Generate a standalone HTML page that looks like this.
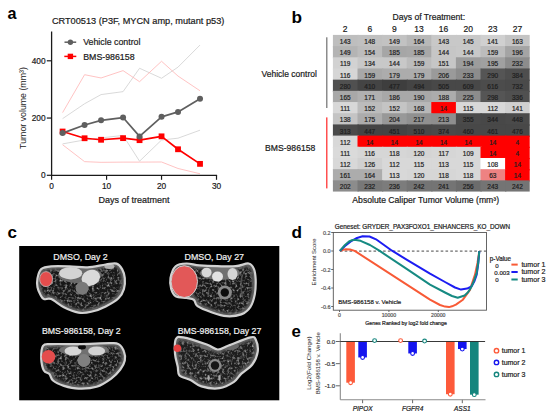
<!DOCTYPE html>
<html><head><meta charset="utf-8"><style>
html,body{margin:0;padding:0;background:#fff;width:550px;height:416px;overflow:hidden}
svg{display:block;font-family:"Liberation Sans",sans-serif}
</style></head><body>
<svg width="550" height="416" viewBox="0 0 550 416">
<rect width="550" height="416" fill="#fff"/>
<text x="7.60" y="19.30" font-size="16.2" text-anchor="start" fill="#000" font-weight="bold" font-style="normal" >a</text>
<text x="51.90" y="24.20" font-size="9.2" text-anchor="start" fill="#1a1a1a" font-weight="normal" font-style="normal" stroke="#1a1a1a" stroke-width="0.2" >CRT00513 (P3F, MYCN amp, mutant p53)</text>
<polyline points="62.59,118.65 84.58,103.74 101.07,94.58 123.06,91.65 139.55,68.25 161.54,78.28 178.03,67.12 200.02,45.04" fill="none" stroke="#cfcfcf" stroke-width="0.8" stroke-linejoin="round" />
<polyline points="62.59,143.90 84.58,139.94 101.07,137.92 123.06,135.42 139.55,161.19 161.54,140.04 178.03,138.18 200.02,130.20" fill="none" stroke="#cfcfcf" stroke-width="0.8" stroke-linejoin="round" />
<polyline points="62.59,112.64 84.58,74.70 101.07,77.97 123.06,70.61 139.55,81.69 161.54,61.27 178.03,76.07 200.02,90.79" fill="none" stroke="#ffb4b4" stroke-width="0.8" stroke-linejoin="round" />
<polyline points="62.59,144.72 84.58,161.65 101.07,162.33 123.06,162.11 139.55,162.12 161.54,161.99 178.03,168.47 200.02,173.75" fill="none" stroke="#ffb4b4" stroke-width="0.8" stroke-linejoin="round" />
<line x1="51.60" y1="31.50" x2="51.60" y2="175.90" stroke="#1a1a1a" stroke-width="1.3" />
<line x1="51.00" y1="175.30" x2="217.10" y2="175.30" stroke="#1a1a1a" stroke-width="1.3" />
<line x1="46.80" y1="175.30" x2="51.60" y2="175.30" stroke="#1a1a1a" stroke-width="1.2" />
<text x="45.60" y="178.30" font-size="8.3" text-anchor="end" fill="#1a1a1a" font-weight="normal" font-style="normal" stroke="#1a1a1a" stroke-width="0.2" >0</text>
<line x1="46.80" y1="118.05" x2="51.60" y2="118.05" stroke="#1a1a1a" stroke-width="1.2" />
<text x="45.60" y="121.05" font-size="8.3" text-anchor="end" fill="#1a1a1a" font-weight="normal" font-style="normal" stroke="#1a1a1a" stroke-width="0.2" >200</text>
<line x1="46.80" y1="60.80" x2="51.60" y2="60.80" stroke="#1a1a1a" stroke-width="1.2" />
<text x="45.60" y="63.80" font-size="8.3" text-anchor="end" fill="#1a1a1a" font-weight="normal" font-style="normal" stroke="#1a1a1a" stroke-width="0.2" >400</text>
<line x1="51.60" y1="175.30" x2="51.60" y2="179.80" stroke="#1a1a1a" stroke-width="1.2" />
<text x="51.60" y="189.00" font-size="8.3" text-anchor="middle" fill="#1a1a1a" font-weight="normal" font-style="normal" stroke="#1a1a1a" stroke-width="0.2" >0</text>
<line x1="106.57" y1="175.30" x2="106.57" y2="179.80" stroke="#1a1a1a" stroke-width="1.2" />
<text x="106.57" y="189.00" font-size="8.3" text-anchor="middle" fill="#1a1a1a" font-weight="normal" font-style="normal" stroke="#1a1a1a" stroke-width="0.2" >10</text>
<line x1="161.54" y1="175.30" x2="161.54" y2="179.80" stroke="#1a1a1a" stroke-width="1.2" />
<text x="161.54" y="189.00" font-size="8.3" text-anchor="middle" fill="#1a1a1a" font-weight="normal" font-style="normal" stroke="#1a1a1a" stroke-width="0.2" >20</text>
<line x1="216.51" y1="175.30" x2="216.51" y2="179.80" stroke="#1a1a1a" stroke-width="1.2" />
<text x="216.51" y="189.00" font-size="8.3" text-anchor="middle" fill="#1a1a1a" font-weight="normal" font-style="normal" stroke="#1a1a1a" stroke-width="0.2" >30</text>
<text x="134.10" y="202.50" font-size="9.0" text-anchor="middle" fill="#1a1a1a" font-weight="normal" font-style="normal" stroke="#1a1a1a" stroke-width="0.2" >Days of treatment</text>
<text x="0" y="0" font-size="8.8" text-anchor="middle" fill="#1a1a1a" transform="translate(26.4,108) rotate(-90)">Tumor volume (mm³)</text>
<polyline points="62.59,131.53 84.58,138.25 101.07,139.77 123.06,138.14 139.55,140.17 161.54,136.34 178.03,149.27 200.02,163.87" fill="none" stroke="#ff0000" stroke-width="1.7" stroke-linejoin="round" />
<polyline points="62.59,133.12 84.58,125.00 101.07,120.37 123.06,117.54 139.55,136.43 161.54,116.81 178.03,111.93 200.02,98.65" fill="none" stroke="#5f5f5f" stroke-width="1.7" stroke-linejoin="round" />
<rect x="59.69" y="128.63" width="5.80" height="5.80" fill="#ff0000" />
<rect x="81.68" y="135.35" width="5.80" height="5.80" fill="#ff0000" />
<rect x="98.17" y="136.87" width="5.80" height="5.80" fill="#ff0000" />
<rect x="120.16" y="135.24" width="5.80" height="5.80" fill="#ff0000" />
<rect x="136.65" y="137.27" width="5.80" height="5.80" fill="#ff0000" />
<rect x="158.64" y="133.44" width="5.80" height="5.80" fill="#ff0000" />
<rect x="175.13" y="146.37" width="5.80" height="5.80" fill="#ff0000" />
<rect x="197.12" y="160.97" width="5.80" height="5.80" fill="#ff0000" />
<circle cx="62.59" cy="133.12" r="3.0" fill="#5f5f5f"/>
<circle cx="84.58" cy="125.00" r="3.0" fill="#5f5f5f"/>
<circle cx="101.07" cy="120.37" r="3.0" fill="#5f5f5f"/>
<circle cx="123.06" cy="117.54" r="3.0" fill="#5f5f5f"/>
<circle cx="139.55" cy="136.43" r="3.0" fill="#5f5f5f"/>
<circle cx="161.54" cy="116.81" r="3.0" fill="#5f5f5f"/>
<circle cx="178.03" cy="111.93" r="3.0" fill="#5f5f5f"/>
<circle cx="200.02" cy="98.65" r="3.0" fill="#5f5f5f"/>
<line x1="64.50" y1="42.20" x2="76.20" y2="42.20" stroke="#5f5f5f" stroke-width="1.5" />
<circle cx="70.4" cy="42.2" r="2.7" fill="#5f5f5f"/>
<text x="83.20" y="45.20" font-size="8.8" text-anchor="start" fill="#1a1a1a" font-weight="normal" font-style="normal" stroke="#1a1a1a" stroke-width="0.2" >Vehicle control</text>
<line x1="64.30" y1="56.40" x2="76.30" y2="56.40" stroke="#ff0000" stroke-width="1.5" />
<rect x="67.70" y="53.70" width="5.40" height="5.40" fill="#ff0000" />
<text x="83.20" y="59.50" font-size="8.8" text-anchor="start" fill="#1a1a1a" font-weight="normal" font-style="normal" stroke="#1a1a1a" stroke-width="0.2" >BMS-986158</text>
<text x="291.60" y="22.50" font-size="17.2" text-anchor="start" fill="#000" font-weight="bold" font-style="normal" >b</text>
<text x="428.80" y="20.20" font-size="8.6" text-anchor="middle" fill="#1a1a1a" font-weight="normal" font-style="normal" stroke="#1a1a1a" stroke-width="0.2" >Days of Treatment:</text>
<text x="345.20" y="32.30" font-size="8.5" text-anchor="middle" fill="#1a1a1a" font-weight="normal" font-style="normal" stroke="#1a1a1a" stroke-width="0.2" >2</text>
<text x="369.80" y="32.30" font-size="8.5" text-anchor="middle" fill="#1a1a1a" font-weight="normal" font-style="normal" stroke="#1a1a1a" stroke-width="0.2" >6</text>
<text x="394.40" y="32.30" font-size="8.5" text-anchor="middle" fill="#1a1a1a" font-weight="normal" font-style="normal" stroke="#1a1a1a" stroke-width="0.2" >9</text>
<text x="419.00" y="32.30" font-size="8.5" text-anchor="middle" fill="#1a1a1a" font-weight="normal" font-style="normal" stroke="#1a1a1a" stroke-width="0.2" >13</text>
<text x="443.60" y="32.30" font-size="8.5" text-anchor="middle" fill="#1a1a1a" font-weight="normal" font-style="normal" stroke="#1a1a1a" stroke-width="0.2" >16</text>
<text x="468.20" y="32.30" font-size="8.5" text-anchor="middle" fill="#1a1a1a" font-weight="normal" font-style="normal" stroke="#1a1a1a" stroke-width="0.2" >20</text>
<text x="492.80" y="32.30" font-size="8.5" text-anchor="middle" fill="#1a1a1a" font-weight="normal" font-style="normal" stroke="#1a1a1a" stroke-width="0.2" >23</text>
<text x="517.40" y="32.30" font-size="8.5" text-anchor="middle" fill="#1a1a1a" font-weight="normal" font-style="normal" stroke="#1a1a1a" stroke-width="0.2" >27</text>
<rect x="332.90" y="34.90" width="25.80" height="12.39" fill="#bebebe" />
<rect x="357.50" y="34.90" width="25.80" height="12.39" fill="#c0c0c0" />
<rect x="382.10" y="34.90" width="25.80" height="12.39" fill="#c2c2c2" />
<rect x="406.70" y="34.90" width="25.80" height="12.39" fill="#b8b8b8" />
<rect x="431.30" y="34.90" width="25.80" height="12.39" fill="#c8c8c8" />
<rect x="455.90" y="34.90" width="25.80" height="12.39" fill="#c8c8c8" />
<rect x="480.50" y="34.90" width="25.80" height="12.39" fill="#d0d0d0" />
<rect x="505.10" y="34.90" width="24.60" height="12.39" fill="#c4c4c4" />
<rect x="332.90" y="46.09" width="25.80" height="12.39" fill="#b4b4b4" />
<rect x="357.50" y="46.09" width="25.80" height="12.39" fill="#bcbcbc" />
<rect x="382.10" y="46.09" width="25.80" height="12.39" fill="#a6a6a6" />
<rect x="406.70" y="46.09" width="25.80" height="12.39" fill="#a8a8a8" />
<rect x="431.30" y="46.09" width="25.80" height="12.39" fill="#c6c6c6" />
<rect x="455.90" y="46.09" width="25.80" height="12.39" fill="#c8c8c8" />
<rect x="480.50" y="46.09" width="25.80" height="12.39" fill="#bcbcbc" />
<rect x="505.10" y="46.09" width="24.60" height="12.39" fill="#a4a4a4" />
<rect x="332.90" y="57.28" width="25.80" height="12.39" fill="#d2d2d2" />
<rect x="357.50" y="57.28" width="25.80" height="12.39" fill="#c8c8c8" />
<rect x="382.10" y="57.28" width="25.80" height="12.39" fill="#c8c8c8" />
<rect x="406.70" y="57.28" width="25.80" height="12.39" fill="#bcbcbc" />
<rect x="431.30" y="57.28" width="25.80" height="12.39" fill="#c6c6c6" />
<rect x="455.90" y="57.28" width="25.80" height="12.39" fill="#9c9c9c" />
<rect x="480.50" y="57.28" width="25.80" height="12.39" fill="#a0a0a0" />
<rect x="505.10" y="57.28" width="24.60" height="12.39" fill="#8c8c8c" />
<rect x="332.90" y="68.47" width="25.80" height="12.39" fill="#d6d6d6" />
<rect x="357.50" y="68.47" width="25.80" height="12.39" fill="#a8a8a8" />
<rect x="382.10" y="68.47" width="25.80" height="12.39" fill="#acacac" />
<rect x="406.70" y="68.47" width="25.80" height="12.39" fill="#acacac" />
<rect x="431.30" y="68.47" width="25.80" height="12.39" fill="#9a9a9a" />
<rect x="455.90" y="68.47" width="25.80" height="12.39" fill="#8c8c8c" />
<rect x="480.50" y="68.47" width="25.80" height="12.39" fill="#555555" />
<rect x="505.10" y="68.47" width="24.60" height="12.39" fill="#4e4e4e" />
<rect x="332.90" y="79.66" width="25.80" height="12.39" fill="#505050" />
<rect x="357.50" y="79.66" width="25.80" height="12.39" fill="#444444" />
<rect x="382.10" y="79.66" width="25.80" height="12.39" fill="#3e3e3e" />
<rect x="406.70" y="79.66" width="25.80" height="12.39" fill="#444444" />
<rect x="431.30" y="79.66" width="25.80" height="12.39" fill="#484848" />
<rect x="455.90" y="79.66" width="25.80" height="12.39" fill="#484848" />
<rect x="480.50" y="79.66" width="25.80" height="12.39" fill="#4c4c4c" />
<rect x="505.10" y="79.66" width="24.60" height="12.39" fill="#4a4a4a" />
<rect x="332.90" y="90.85" width="25.80" height="12.39" fill="#a8a8a8" />
<rect x="357.50" y="90.85" width="25.80" height="12.39" fill="#b0b0b0" />
<rect x="382.10" y="90.85" width="25.80" height="12.39" fill="#a8a8a8" />
<rect x="406.70" y="90.85" width="25.80" height="12.39" fill="#a8a8a8" />
<rect x="431.30" y="90.85" width="25.80" height="12.39" fill="#acacac" />
<rect x="455.90" y="90.85" width="25.80" height="12.39" fill="#8c8c8c" />
<rect x="480.50" y="90.85" width="25.80" height="12.39" fill="#555555" />
<rect x="505.10" y="90.85" width="24.60" height="12.39" fill="#505050" />
<rect x="332.90" y="102.04" width="25.80" height="12.39" fill="#d8d8d8" />
<rect x="357.50" y="102.04" width="25.80" height="12.39" fill="#bcbcbc" />
<rect x="382.10" y="102.04" width="25.80" height="12.39" fill="#c4c4c4" />
<rect x="406.70" y="102.04" width="25.80" height="12.39" fill="#b8b8b8" />
<rect x="431.30" y="102.04" width="25.80" height="12.39" fill="#ff0000" />
<rect x="455.90" y="102.04" width="25.80" height="12.39" fill="#d8d8d8" />
<rect x="480.50" y="102.04" width="25.80" height="12.39" fill="#d8d8d8" />
<rect x="505.10" y="102.04" width="24.60" height="12.39" fill="#d0d0d0" />
<rect x="332.90" y="113.23" width="25.80" height="12.39" fill="#c4c4c4" />
<rect x="357.50" y="113.23" width="25.80" height="12.39" fill="#acacac" />
<rect x="382.10" y="113.23" width="25.80" height="12.39" fill="#989898" />
<rect x="406.70" y="113.23" width="25.80" height="12.39" fill="#909090" />
<rect x="431.30" y="113.23" width="25.80" height="12.39" fill="#8e8e8e" />
<rect x="455.90" y="113.23" width="25.80" height="12.39" fill="#4a4a4a" />
<rect x="480.50" y="113.23" width="25.80" height="12.39" fill="#484848" />
<rect x="505.10" y="113.23" width="24.60" height="12.39" fill="#4a4a4a" />
<rect x="332.90" y="124.42" width="25.80" height="12.39" fill="#4a4a4a" />
<rect x="357.50" y="124.42" width="25.80" height="12.39" fill="#444444" />
<rect x="382.10" y="124.42" width="25.80" height="12.39" fill="#444444" />
<rect x="406.70" y="124.42" width="25.80" height="12.39" fill="#484848" />
<rect x="431.30" y="124.42" width="25.80" height="12.39" fill="#4a4a4a" />
<rect x="455.90" y="124.42" width="25.80" height="12.39" fill="#484848" />
<rect x="480.50" y="124.42" width="25.80" height="12.39" fill="#484848" />
<rect x="505.10" y="124.42" width="24.60" height="12.39" fill="#484848" />
<rect x="332.90" y="135.61" width="25.80" height="12.39" fill="#d8d8d8" />
<rect x="357.50" y="135.61" width="25.80" height="12.39" fill="#ff0000" />
<rect x="382.10" y="135.61" width="25.80" height="12.39" fill="#ff0000" />
<rect x="406.70" y="135.61" width="25.80" height="12.39" fill="#ff0000" />
<rect x="431.30" y="135.61" width="25.80" height="12.39" fill="#ff0000" />
<rect x="455.90" y="135.61" width="25.80" height="12.39" fill="#ff0000" />
<rect x="480.50" y="135.61" width="25.80" height="12.39" fill="#ff0000" />
<rect x="505.10" y="135.61" width="24.60" height="12.39" fill="#ff0000" />
<rect x="332.90" y="146.80" width="25.80" height="12.39" fill="#dadada" />
<rect x="357.50" y="146.80" width="25.80" height="12.39" fill="#d6d6d6" />
<rect x="382.10" y="146.80" width="25.80" height="12.39" fill="#d6d6d6" />
<rect x="406.70" y="146.80" width="25.80" height="12.39" fill="#d4d4d4" />
<rect x="431.30" y="146.80" width="25.80" height="12.39" fill="#d6d6d6" />
<rect x="455.90" y="146.80" width="25.80" height="12.39" fill="#d8d8d8" />
<rect x="480.50" y="146.80" width="25.80" height="12.39" fill="#ff0000" />
<rect x="505.10" y="146.80" width="24.60" height="12.39" fill="#ff0000" />
<rect x="332.90" y="157.99" width="25.80" height="12.39" fill="#d8d8d8" />
<rect x="357.50" y="157.99" width="25.80" height="12.39" fill="#d0d0d0" />
<rect x="382.10" y="157.99" width="25.80" height="12.39" fill="#d8d8d8" />
<rect x="406.70" y="157.99" width="25.80" height="12.39" fill="#d8d8d8" />
<rect x="431.30" y="157.99" width="25.80" height="12.39" fill="#d8d8d8" />
<rect x="455.90" y="157.99" width="25.80" height="12.39" fill="#d8d8d8" />
<rect x="480.50" y="157.99" width="25.80" height="12.39" fill="#ffffff" />
<rect x="505.10" y="157.99" width="24.60" height="12.39" fill="#ff0000" />
<rect x="332.90" y="169.18" width="25.80" height="12.39" fill="#acacac" />
<rect x="357.50" y="169.18" width="25.80" height="12.39" fill="#acacac" />
<rect x="382.10" y="169.18" width="25.80" height="12.39" fill="#d8d8d8" />
<rect x="406.70" y="169.18" width="25.80" height="12.39" fill="#d6d6d6" />
<rect x="431.30" y="169.18" width="25.80" height="12.39" fill="#d6d6d6" />
<rect x="455.90" y="169.18" width="25.80" height="12.39" fill="#d8d8d8" />
<rect x="480.50" y="169.18" width="25.80" height="12.39" fill="#ee8282" />
<rect x="505.10" y="169.18" width="24.60" height="12.39" fill="#ff0000" />
<rect x="332.90" y="180.37" width="25.80" height="11.19" fill="#8c8c8c" />
<rect x="357.50" y="180.37" width="25.80" height="11.19" fill="#787878" />
<rect x="382.10" y="180.37" width="25.80" height="11.19" fill="#7c7c7c" />
<rect x="406.70" y="180.37" width="25.80" height="11.19" fill="#747474" />
<rect x="431.30" y="180.37" width="25.80" height="11.19" fill="#747474" />
<rect x="455.90" y="180.37" width="25.80" height="11.19" fill="#6c6c6c" />
<rect x="480.50" y="180.37" width="25.80" height="11.19" fill="#747474" />
<rect x="505.10" y="180.37" width="24.60" height="11.19" fill="#747474" />
<text x="345.20" y="43.99" font-size="6.5" text-anchor="middle" fill="#1e1e1e" font-weight="normal" font-style="normal" stroke="#1e1e1e" stroke-width="0.2" >143</text>
<text x="369.80" y="43.99" font-size="6.5" text-anchor="middle" fill="#1e1e1e" font-weight="normal" font-style="normal" stroke="#1e1e1e" stroke-width="0.2" >148</text>
<text x="394.40" y="43.99" font-size="6.5" text-anchor="middle" fill="#1e1e1e" font-weight="normal" font-style="normal" stroke="#1e1e1e" stroke-width="0.2" >149</text>
<text x="419.00" y="43.99" font-size="6.5" text-anchor="middle" fill="#1e1e1e" font-weight="normal" font-style="normal" stroke="#1e1e1e" stroke-width="0.2" >164</text>
<text x="443.60" y="43.99" font-size="6.5" text-anchor="middle" fill="#1e1e1e" font-weight="normal" font-style="normal" stroke="#1e1e1e" stroke-width="0.2" >143</text>
<text x="468.20" y="43.99" font-size="6.5" text-anchor="middle" fill="#1e1e1e" font-weight="normal" font-style="normal" stroke="#1e1e1e" stroke-width="0.2" >145</text>
<text x="492.80" y="43.99" font-size="6.5" text-anchor="middle" fill="#1e1e1e" font-weight="normal" font-style="normal" stroke="#1e1e1e" stroke-width="0.2" >141</text>
<text x="517.40" y="43.99" font-size="6.5" text-anchor="middle" fill="#1e1e1e" font-weight="normal" font-style="normal" stroke="#1e1e1e" stroke-width="0.2" >163</text>
<text x="345.20" y="55.19" font-size="6.5" text-anchor="middle" fill="#1e1e1e" font-weight="normal" font-style="normal" stroke="#1e1e1e" stroke-width="0.2" >149</text>
<text x="369.80" y="55.19" font-size="6.5" text-anchor="middle" fill="#1e1e1e" font-weight="normal" font-style="normal" stroke="#1e1e1e" stroke-width="0.2" >154</text>
<text x="394.40" y="55.19" font-size="6.5" text-anchor="middle" fill="#1e1e1e" font-weight="normal" font-style="normal" stroke="#1e1e1e" stroke-width="0.2" >185</text>
<text x="419.00" y="55.19" font-size="6.5" text-anchor="middle" fill="#1e1e1e" font-weight="normal" font-style="normal" stroke="#1e1e1e" stroke-width="0.2" >185</text>
<text x="443.60" y="55.19" font-size="6.5" text-anchor="middle" fill="#1e1e1e" font-weight="normal" font-style="normal" stroke="#1e1e1e" stroke-width="0.2" >144</text>
<text x="468.20" y="55.19" font-size="6.5" text-anchor="middle" fill="#1e1e1e" font-weight="normal" font-style="normal" stroke="#1e1e1e" stroke-width="0.2" >144</text>
<text x="492.80" y="55.19" font-size="6.5" text-anchor="middle" fill="#1e1e1e" font-weight="normal" font-style="normal" stroke="#1e1e1e" stroke-width="0.2" >159</text>
<text x="517.40" y="55.19" font-size="6.5" text-anchor="middle" fill="#1e1e1e" font-weight="normal" font-style="normal" stroke="#1e1e1e" stroke-width="0.2" >196</text>
<text x="345.20" y="66.38" font-size="6.5" text-anchor="middle" fill="#1e1e1e" font-weight="normal" font-style="normal" stroke="#1e1e1e" stroke-width="0.2" >119</text>
<text x="369.80" y="66.38" font-size="6.5" text-anchor="middle" fill="#1e1e1e" font-weight="normal" font-style="normal" stroke="#1e1e1e" stroke-width="0.2" >134</text>
<text x="394.40" y="66.38" font-size="6.5" text-anchor="middle" fill="#1e1e1e" font-weight="normal" font-style="normal" stroke="#1e1e1e" stroke-width="0.2" >144</text>
<text x="419.00" y="66.38" font-size="6.5" text-anchor="middle" fill="#1e1e1e" font-weight="normal" font-style="normal" stroke="#1e1e1e" stroke-width="0.2" >159</text>
<text x="443.60" y="66.38" font-size="6.5" text-anchor="middle" fill="#1e1e1e" font-weight="normal" font-style="normal" stroke="#1e1e1e" stroke-width="0.2" >151</text>
<text x="468.20" y="66.38" font-size="6.5" text-anchor="middle" fill="#1e1e1e" font-weight="normal" font-style="normal" stroke="#1e1e1e" stroke-width="0.2" >194</text>
<text x="492.80" y="66.38" font-size="6.5" text-anchor="middle" fill="#1e1e1e" font-weight="normal" font-style="normal" stroke="#1e1e1e" stroke-width="0.2" >195</text>
<text x="517.40" y="66.38" font-size="6.5" text-anchor="middle" fill="#1e1e1e" font-weight="normal" font-style="normal" stroke="#1e1e1e" stroke-width="0.2" >232</text>
<text x="345.20" y="77.56" font-size="6.5" text-anchor="middle" fill="#1e1e1e" font-weight="normal" font-style="normal" stroke="#1e1e1e" stroke-width="0.2" >116</text>
<text x="369.80" y="77.56" font-size="6.5" text-anchor="middle" fill="#1e1e1e" font-weight="normal" font-style="normal" stroke="#1e1e1e" stroke-width="0.2" >159</text>
<text x="394.40" y="77.56" font-size="6.5" text-anchor="middle" fill="#1e1e1e" font-weight="normal" font-style="normal" stroke="#1e1e1e" stroke-width="0.2" >179</text>
<text x="419.00" y="77.56" font-size="6.5" text-anchor="middle" fill="#1e1e1e" font-weight="normal" font-style="normal" stroke="#1e1e1e" stroke-width="0.2" >179</text>
<text x="443.60" y="77.56" font-size="6.5" text-anchor="middle" fill="#1e1e1e" font-weight="normal" font-style="normal" stroke="#1e1e1e" stroke-width="0.2" >206</text>
<text x="468.20" y="77.56" font-size="6.5" text-anchor="middle" fill="#1e1e1e" font-weight="normal" font-style="normal" stroke="#1e1e1e" stroke-width="0.2" >233</text>
<text x="492.80" y="77.56" font-size="6.5" text-anchor="middle" fill="#1e1e1e" font-weight="normal" font-style="normal" stroke="#1e1e1e" stroke-width="0.2" >290</text>
<text x="517.40" y="77.56" font-size="6.5" text-anchor="middle" fill="#1e1e1e" font-weight="normal" font-style="normal" stroke="#1e1e1e" stroke-width="0.2" >384</text>
<text x="345.20" y="88.75" font-size="6.5" text-anchor="middle" fill="#1e1e1e" font-weight="normal" font-style="normal" stroke="#1e1e1e" stroke-width="0.2" >280</text>
<text x="369.80" y="88.75" font-size="6.5" text-anchor="middle" fill="#1e1e1e" font-weight="normal" font-style="normal" stroke="#1e1e1e" stroke-width="0.2" >410</text>
<text x="394.40" y="88.75" font-size="6.5" text-anchor="middle" fill="#1e1e1e" font-weight="normal" font-style="normal" stroke="#1e1e1e" stroke-width="0.2" >477</text>
<text x="419.00" y="88.75" font-size="6.5" text-anchor="middle" fill="#1e1e1e" font-weight="normal" font-style="normal" stroke="#1e1e1e" stroke-width="0.2" >494</text>
<text x="443.60" y="88.75" font-size="6.5" text-anchor="middle" fill="#1e1e1e" font-weight="normal" font-style="normal" stroke="#1e1e1e" stroke-width="0.2" >505</text>
<text x="468.20" y="88.75" font-size="6.5" text-anchor="middle" fill="#1e1e1e" font-weight="normal" font-style="normal" stroke="#1e1e1e" stroke-width="0.2" >609</text>
<text x="492.80" y="88.75" font-size="6.5" text-anchor="middle" fill="#1e1e1e" font-weight="normal" font-style="normal" stroke="#1e1e1e" stroke-width="0.2" >616</text>
<text x="517.40" y="88.75" font-size="6.5" text-anchor="middle" fill="#1e1e1e" font-weight="normal" font-style="normal" stroke="#1e1e1e" stroke-width="0.2" >732</text>
<text x="345.20" y="99.94" font-size="6.5" text-anchor="middle" fill="#1e1e1e" font-weight="normal" font-style="normal" stroke="#1e1e1e" stroke-width="0.2" >165</text>
<text x="369.80" y="99.94" font-size="6.5" text-anchor="middle" fill="#1e1e1e" font-weight="normal" font-style="normal" stroke="#1e1e1e" stroke-width="0.2" >171</text>
<text x="394.40" y="99.94" font-size="6.5" text-anchor="middle" fill="#1e1e1e" font-weight="normal" font-style="normal" stroke="#1e1e1e" stroke-width="0.2" >186</text>
<text x="419.00" y="99.94" font-size="6.5" text-anchor="middle" fill="#1e1e1e" font-weight="normal" font-style="normal" stroke="#1e1e1e" stroke-width="0.2" >190</text>
<text x="443.60" y="99.94" font-size="6.5" text-anchor="middle" fill="#1e1e1e" font-weight="normal" font-style="normal" stroke="#1e1e1e" stroke-width="0.2" >188</text>
<text x="468.20" y="99.94" font-size="6.5" text-anchor="middle" fill="#1e1e1e" font-weight="normal" font-style="normal" stroke="#1e1e1e" stroke-width="0.2" >225</text>
<text x="492.80" y="99.94" font-size="6.5" text-anchor="middle" fill="#1e1e1e" font-weight="normal" font-style="normal" stroke="#1e1e1e" stroke-width="0.2" >298</text>
<text x="517.40" y="99.94" font-size="6.5" text-anchor="middle" fill="#1e1e1e" font-weight="normal" font-style="normal" stroke="#1e1e1e" stroke-width="0.2" >336</text>
<text x="345.20" y="111.13" font-size="6.5" text-anchor="middle" fill="#1e1e1e" font-weight="normal" font-style="normal" stroke="#1e1e1e" stroke-width="0.2" >111</text>
<text x="369.80" y="111.13" font-size="6.5" text-anchor="middle" fill="#1e1e1e" font-weight="normal" font-style="normal" stroke="#1e1e1e" stroke-width="0.2" >152</text>
<text x="394.40" y="111.13" font-size="6.5" text-anchor="middle" fill="#1e1e1e" font-weight="normal" font-style="normal" stroke="#1e1e1e" stroke-width="0.2" >152</text>
<text x="419.00" y="111.13" font-size="6.5" text-anchor="middle" fill="#1e1e1e" font-weight="normal" font-style="normal" stroke="#1e1e1e" stroke-width="0.2" >168</text>
<text x="443.60" y="111.13" font-size="6.5" text-anchor="middle" fill="#1e1e1e" font-weight="normal" font-style="normal" stroke="#1e1e1e" stroke-width="0.2" >14</text>
<text x="468.20" y="111.13" font-size="6.5" text-anchor="middle" fill="#1e1e1e" font-weight="normal" font-style="normal" stroke="#1e1e1e" stroke-width="0.2" >115</text>
<text x="492.80" y="111.13" font-size="6.5" text-anchor="middle" fill="#1e1e1e" font-weight="normal" font-style="normal" stroke="#1e1e1e" stroke-width="0.2" >112</text>
<text x="517.40" y="111.13" font-size="6.5" text-anchor="middle" fill="#1e1e1e" font-weight="normal" font-style="normal" stroke="#1e1e1e" stroke-width="0.2" >141</text>
<text x="345.20" y="122.32" font-size="6.5" text-anchor="middle" fill="#1e1e1e" font-weight="normal" font-style="normal" stroke="#1e1e1e" stroke-width="0.2" >138</text>
<text x="369.80" y="122.32" font-size="6.5" text-anchor="middle" fill="#1e1e1e" font-weight="normal" font-style="normal" stroke="#1e1e1e" stroke-width="0.2" >175</text>
<text x="394.40" y="122.32" font-size="6.5" text-anchor="middle" fill="#1e1e1e" font-weight="normal" font-style="normal" stroke="#1e1e1e" stroke-width="0.2" >204</text>
<text x="419.00" y="122.32" font-size="6.5" text-anchor="middle" fill="#1e1e1e" font-weight="normal" font-style="normal" stroke="#1e1e1e" stroke-width="0.2" >217</text>
<text x="443.60" y="122.32" font-size="6.5" text-anchor="middle" fill="#1e1e1e" font-weight="normal" font-style="normal" stroke="#1e1e1e" stroke-width="0.2" >213</text>
<text x="468.20" y="122.32" font-size="6.5" text-anchor="middle" fill="#1e1e1e" font-weight="normal" font-style="normal" stroke="#1e1e1e" stroke-width="0.2" >355</text>
<text x="492.80" y="122.32" font-size="6.5" text-anchor="middle" fill="#1e1e1e" font-weight="normal" font-style="normal" stroke="#1e1e1e" stroke-width="0.2" >344</text>
<text x="517.40" y="122.32" font-size="6.5" text-anchor="middle" fill="#1e1e1e" font-weight="normal" font-style="normal" stroke="#1e1e1e" stroke-width="0.2" >448</text>
<text x="345.20" y="133.51" font-size="6.5" text-anchor="middle" fill="#1e1e1e" font-weight="normal" font-style="normal" stroke="#1e1e1e" stroke-width="0.2" >313</text>
<text x="369.80" y="133.51" font-size="6.5" text-anchor="middle" fill="#1e1e1e" font-weight="normal" font-style="normal" stroke="#1e1e1e" stroke-width="0.2" >447</text>
<text x="394.40" y="133.51" font-size="6.5" text-anchor="middle" fill="#1e1e1e" font-weight="normal" font-style="normal" stroke="#1e1e1e" stroke-width="0.2" >451</text>
<text x="419.00" y="133.51" font-size="6.5" text-anchor="middle" fill="#1e1e1e" font-weight="normal" font-style="normal" stroke="#1e1e1e" stroke-width="0.2" >510</text>
<text x="443.60" y="133.51" font-size="6.5" text-anchor="middle" fill="#1e1e1e" font-weight="normal" font-style="normal" stroke="#1e1e1e" stroke-width="0.2" >374</text>
<text x="468.20" y="133.51" font-size="6.5" text-anchor="middle" fill="#1e1e1e" font-weight="normal" font-style="normal" stroke="#1e1e1e" stroke-width="0.2" >460</text>
<text x="492.80" y="133.51" font-size="6.5" text-anchor="middle" fill="#1e1e1e" font-weight="normal" font-style="normal" stroke="#1e1e1e" stroke-width="0.2" >461</text>
<text x="517.40" y="133.51" font-size="6.5" text-anchor="middle" fill="#1e1e1e" font-weight="normal" font-style="normal" stroke="#1e1e1e" stroke-width="0.2" >476</text>
<text x="345.20" y="144.70" font-size="6.5" text-anchor="middle" fill="#1e1e1e" font-weight="normal" font-style="normal" stroke="#1e1e1e" stroke-width="0.2" >112</text>
<text x="369.80" y="144.70" font-size="6.5" text-anchor="middle" fill="#1e1e1e" font-weight="normal" font-style="normal" stroke="#1e1e1e" stroke-width="0.2" >14</text>
<text x="394.40" y="144.70" font-size="6.5" text-anchor="middle" fill="#1e1e1e" font-weight="normal" font-style="normal" stroke="#1e1e1e" stroke-width="0.2" >14</text>
<text x="419.00" y="144.70" font-size="6.5" text-anchor="middle" fill="#1e1e1e" font-weight="normal" font-style="normal" stroke="#1e1e1e" stroke-width="0.2" >14</text>
<text x="443.60" y="144.70" font-size="6.5" text-anchor="middle" fill="#1e1e1e" font-weight="normal" font-style="normal" stroke="#1e1e1e" stroke-width="0.2" >14</text>
<text x="468.20" y="144.70" font-size="6.5" text-anchor="middle" fill="#1e1e1e" font-weight="normal" font-style="normal" stroke="#1e1e1e" stroke-width="0.2" >14</text>
<text x="492.80" y="144.70" font-size="6.5" text-anchor="middle" fill="#1e1e1e" font-weight="normal" font-style="normal" stroke="#1e1e1e" stroke-width="0.2" >14</text>
<text x="517.40" y="144.70" font-size="6.5" text-anchor="middle" fill="#1e1e1e" font-weight="normal" font-style="normal" stroke="#1e1e1e" stroke-width="0.2" >4</text>
<text x="345.20" y="155.89" font-size="6.5" text-anchor="middle" fill="#1e1e1e" font-weight="normal" font-style="normal" stroke="#1e1e1e" stroke-width="0.2" >111</text>
<text x="369.80" y="155.89" font-size="6.5" text-anchor="middle" fill="#1e1e1e" font-weight="normal" font-style="normal" stroke="#1e1e1e" stroke-width="0.2" >116</text>
<text x="394.40" y="155.89" font-size="6.5" text-anchor="middle" fill="#1e1e1e" font-weight="normal" font-style="normal" stroke="#1e1e1e" stroke-width="0.2" >118</text>
<text x="419.00" y="155.89" font-size="6.5" text-anchor="middle" fill="#1e1e1e" font-weight="normal" font-style="normal" stroke="#1e1e1e" stroke-width="0.2" >120</text>
<text x="443.60" y="155.89" font-size="6.5" text-anchor="middle" fill="#1e1e1e" font-weight="normal" font-style="normal" stroke="#1e1e1e" stroke-width="0.2" >117</text>
<text x="468.20" y="155.89" font-size="6.5" text-anchor="middle" fill="#1e1e1e" font-weight="normal" font-style="normal" stroke="#1e1e1e" stroke-width="0.2" >109</text>
<text x="492.80" y="155.89" font-size="6.5" text-anchor="middle" fill="#1e1e1e" font-weight="normal" font-style="normal" stroke="#1e1e1e" stroke-width="0.2" >14</text>
<text x="517.40" y="155.89" font-size="6.5" text-anchor="middle" fill="#1e1e1e" font-weight="normal" font-style="normal" stroke="#1e1e1e" stroke-width="0.2" >4</text>
<text x="345.20" y="167.09" font-size="6.5" text-anchor="middle" fill="#1e1e1e" font-weight="normal" font-style="normal" stroke="#1e1e1e" stroke-width="0.2" >112</text>
<text x="369.80" y="167.09" font-size="6.5" text-anchor="middle" fill="#1e1e1e" font-weight="normal" font-style="normal" stroke="#1e1e1e" stroke-width="0.2" >126</text>
<text x="394.40" y="167.09" font-size="6.5" text-anchor="middle" fill="#1e1e1e" font-weight="normal" font-style="normal" stroke="#1e1e1e" stroke-width="0.2" >112</text>
<text x="419.00" y="167.09" font-size="6.5" text-anchor="middle" fill="#1e1e1e" font-weight="normal" font-style="normal" stroke="#1e1e1e" stroke-width="0.2" >115</text>
<text x="443.60" y="167.09" font-size="6.5" text-anchor="middle" fill="#1e1e1e" font-weight="normal" font-style="normal" stroke="#1e1e1e" stroke-width="0.2" >113</text>
<text x="468.20" y="167.09" font-size="6.5" text-anchor="middle" fill="#1e1e1e" font-weight="normal" font-style="normal" stroke="#1e1e1e" stroke-width="0.2" >115</text>
<text x="492.80" y="167.09" font-size="6.5" text-anchor="middle" fill="#1e1e1e" font-weight="normal" font-style="normal" stroke="#1e1e1e" stroke-width="0.2" >108</text>
<text x="517.40" y="167.09" font-size="6.5" text-anchor="middle" fill="#1e1e1e" font-weight="normal" font-style="normal" stroke="#1e1e1e" stroke-width="0.2" >14</text>
<text x="345.20" y="178.28" font-size="6.5" text-anchor="middle" fill="#1e1e1e" font-weight="normal" font-style="normal" stroke="#1e1e1e" stroke-width="0.2" >161</text>
<text x="369.80" y="178.28" font-size="6.5" text-anchor="middle" fill="#1e1e1e" font-weight="normal" font-style="normal" stroke="#1e1e1e" stroke-width="0.2" >164</text>
<text x="394.40" y="178.28" font-size="6.5" text-anchor="middle" fill="#1e1e1e" font-weight="normal" font-style="normal" stroke="#1e1e1e" stroke-width="0.2" >113</text>
<text x="419.00" y="178.28" font-size="6.5" text-anchor="middle" fill="#1e1e1e" font-weight="normal" font-style="normal" stroke="#1e1e1e" stroke-width="0.2" >120</text>
<text x="443.60" y="178.28" font-size="6.5" text-anchor="middle" fill="#1e1e1e" font-weight="normal" font-style="normal" stroke="#1e1e1e" stroke-width="0.2" >118</text>
<text x="468.20" y="178.28" font-size="6.5" text-anchor="middle" fill="#1e1e1e" font-weight="normal" font-style="normal" stroke="#1e1e1e" stroke-width="0.2" >118</text>
<text x="492.80" y="178.28" font-size="6.5" text-anchor="middle" fill="#1e1e1e" font-weight="normal" font-style="normal" stroke="#1e1e1e" stroke-width="0.2" >63</text>
<text x="517.40" y="178.28" font-size="6.5" text-anchor="middle" fill="#1e1e1e" font-weight="normal" font-style="normal" stroke="#1e1e1e" stroke-width="0.2" >14</text>
<text x="345.20" y="189.47" font-size="6.5" text-anchor="middle" fill="#1e1e1e" font-weight="normal" font-style="normal" stroke="#1e1e1e" stroke-width="0.2" >202</text>
<text x="369.80" y="189.47" font-size="6.5" text-anchor="middle" fill="#1e1e1e" font-weight="normal" font-style="normal" stroke="#1e1e1e" stroke-width="0.2" >232</text>
<text x="394.40" y="189.47" font-size="6.5" text-anchor="middle" fill="#1e1e1e" font-weight="normal" font-style="normal" stroke="#1e1e1e" stroke-width="0.2" >236</text>
<text x="419.00" y="189.47" font-size="6.5" text-anchor="middle" fill="#1e1e1e" font-weight="normal" font-style="normal" stroke="#1e1e1e" stroke-width="0.2" >242</text>
<text x="443.60" y="189.47" font-size="6.5" text-anchor="middle" fill="#1e1e1e" font-weight="normal" font-style="normal" stroke="#1e1e1e" stroke-width="0.2" >241</text>
<text x="468.20" y="189.47" font-size="6.5" text-anchor="middle" fill="#1e1e1e" font-weight="normal" font-style="normal" stroke="#1e1e1e" stroke-width="0.2" >256</text>
<text x="492.80" y="189.47" font-size="6.5" text-anchor="middle" fill="#1e1e1e" font-weight="normal" font-style="normal" stroke="#1e1e1e" stroke-width="0.2" >243</text>
<text x="517.40" y="189.47" font-size="6.5" text-anchor="middle" fill="#1e1e1e" font-weight="normal" font-style="normal" stroke="#1e1e1e" stroke-width="0.2" >242</text>
<rect x="326.00" y="37.30" width="1.50" height="70.70" fill="#8c8c8c" />
<rect x="326.00" y="117.40" width="1.50" height="71.00" fill="#ff5050" />
<text x="289.20" y="77.00" font-size="8.5" text-anchor="middle" fill="#1a1a1a" font-weight="normal" font-style="normal" stroke="#1a1a1a" stroke-width="0.2" >Vehicle control</text>
<text x="290.20" y="151.00" font-size="8.65" text-anchor="middle" fill="#1a1a1a" font-weight="normal" font-style="normal" stroke="#1a1a1a" stroke-width="0.2" >BMS-986158</text>
<text x="425.70" y="202.70" font-size="8.63" text-anchor="middle" fill="#1a1a1a" font-weight="normal" font-style="normal" stroke="#1a1a1a" stroke-width="0.2" >Absolute Caliper Tumor Volume (mm³)</text>
<text x="7.60" y="238.20" font-size="17" text-anchor="start" fill="#000" font-weight="bold" font-style="normal" >c</text>
<rect x="19.20" y="246.00" width="260.10" height="154.30" fill="#000000" />
<defs><filter id="soft" x="-10%" y="-10%" width="120%" height="120%"><feGaussianBlur stdDeviation="0.7"/></filter><filter id="soft2" x="-20%" y="-20%" width="140%" height="140%"><feGaussianBlur stdDeviation="1.2"/></filter></defs>
<filter id="noise" x="0" y="0" width="100%" height="100%"><feTurbulence type="fractalNoise" baseFrequency="0.4" numOctaves="2" seed="3"/><feColorMatrix values="0 0 0 0 0.5  0 0 0 0 0.5  0 0 0 0 0.5  0 0 0 2.0 -0.92"/><feGaussianBlur stdDeviation="0.4"/></filter>
<clipPath id="bc0"><path d="M41.2,269.1 C43.5,267.1 46.5,266.8 51.2,266.4 C55.9,265.9 63.4,266.2 69.4,266.4 C75.5,266.5 81.5,267.6 87.5,267.3 C93.5,267.0 100.9,265.1 105.7,264.5 C110.5,263.9 113.9,262.8 116.6,263.6 C119.3,264.4 120.7,266.7 122.1,269.1 C123.5,271.5 124.5,274.9 124.8,278.2 C125.1,281.5 125.0,285.8 123.9,289.1 C122.9,292.4 121.5,295.3 118.5,298.2 C115.5,301.1 110.2,304.1 105.7,306.4 C101.2,308.7 95.7,310.8 91.2,311.8 C86.7,312.9 83.0,313.4 78.5,312.7 C74.0,311.9 68.5,309.6 63.9,307.3 C59.4,305.0 54.5,300.5 51.2,299.1 C47.9,297.7 45.7,299.9 43.9,299.1 C42.1,298.3 41.4,296.5 40.3,294.5 C39.2,292.5 38.0,290.0 37.5,287.3 C37.0,284.6 36.9,281.2 37.5,278.2 C38.1,275.2 38.9,271.1 41.2,269.1 Z"/></clipPath>
<g clip-path="url(#bc0)"><rect x="19" y="246" width="261" height="155" fill="#181818"/><rect x="19" y="246" width="261" height="155" filter="url(#noise)"/><path d="M41.2,269.1 C43.5,267.1 46.5,266.8 51.2,266.4 C55.9,265.9 63.4,266.2 69.4,266.4 C75.5,266.5 81.5,267.6 87.5,267.3 C93.5,267.0 100.9,265.1 105.7,264.5 C110.5,263.9 113.9,262.8 116.6,263.6 C119.3,264.4 120.7,266.7 122.1,269.1 C123.5,271.5 124.5,274.9 124.8,278.2 C125.1,281.5 125.0,285.8 123.9,289.1 C122.9,292.4 121.5,295.3 118.5,298.2 C115.5,301.1 110.2,304.1 105.7,306.4 C101.2,308.7 95.7,310.8 91.2,311.8 C86.7,312.9 83.0,313.4 78.5,312.7 C74.0,311.9 68.5,309.6 63.9,307.3 C59.4,305.0 54.5,300.5 51.2,299.1 C47.9,297.7 45.7,299.9 43.9,299.1 C42.1,298.3 41.4,296.5 40.3,294.5 C39.2,292.5 38.0,290.0 37.5,287.3 C37.0,284.6 36.9,281.2 37.5,278.2 C38.1,275.2 38.9,271.1 41.2,269.1 Z" fill="none" stroke="#606060" stroke-width="7" filter="url(#soft2)"/><g filter="url(#soft)"><ellipse cx="80" cy="275" rx="22" ry="8" fill="#6a6a6a"/><ellipse cx="70.7" cy="273.2" rx="11.5" ry="6.2" fill="#d4d4d4"/><ellipse cx="90.8" cy="277.8" rx="9.5" ry="7.8" fill="#dadada" transform="rotate(-25 90.8 277.8)"/><circle cx="82.1" cy="288.2" r="6.5" fill="#7a7a7a"/><ellipse cx="109.4" cy="266.5" rx="5" ry="2.5" fill="#b0b0b0"/></g></g>
<path d="M41.2,269.1 C43.5,267.1 46.5,266.8 51.2,266.4 C55.9,265.9 63.4,266.2 69.4,266.4 C75.5,266.5 81.5,267.6 87.5,267.3 C93.5,267.0 100.9,265.1 105.7,264.5 C110.5,263.9 113.9,262.8 116.6,263.6 C119.3,264.4 120.7,266.7 122.1,269.1 C123.5,271.5 124.5,274.9 124.8,278.2 C125.1,281.5 125.0,285.8 123.9,289.1 C122.9,292.4 121.5,295.3 118.5,298.2 C115.5,301.1 110.2,304.1 105.7,306.4 C101.2,308.7 95.7,310.8 91.2,311.8 C86.7,312.9 83.0,313.4 78.5,312.7 C74.0,311.9 68.5,309.6 63.9,307.3 C59.4,305.0 54.5,300.5 51.2,299.1 C47.9,297.7 45.7,299.9 43.9,299.1 C42.1,298.3 41.4,296.5 40.3,294.5 C39.2,292.5 38.0,290.0 37.5,287.3 C37.0,284.6 36.9,281.2 37.5,278.2 C38.1,275.2 38.9,271.1 41.2,269.1 Z" fill="none" stroke="#d2d2d2" stroke-width="2.2" filter="url(#soft)"/>
<clipPath id="bc1"><path d="M175.7,266.2 C178.4,263.8 182.6,263.6 186.6,263.5 C190.6,263.4 194.2,264.9 199.4,265.3 C204.6,265.8 211.4,266.1 217.5,266.2 C223.6,266.3 230.5,266.6 235.7,266.2 C240.9,265.8 245.5,263.1 248.5,263.5 C251.5,263.9 252.7,266.2 253.9,268.9 C255.1,271.6 255.5,275.6 255.7,279.8 C255.8,284.1 255.7,289.8 254.8,294.4 C253.9,298.9 252.6,303.8 250.3,307.1 C248.0,310.4 245.1,312.9 241.2,314.4 C237.2,315.9 231.4,316.5 226.6,316.2 C221.8,315.9 216.9,314.2 212.1,312.5 C207.2,310.8 200.5,308.3 197.5,306.2 C194.5,304.1 195.7,301.2 193.9,299.8 C192.1,298.4 189.6,298.6 186.6,298.0 C183.6,297.4 178.3,297.7 175.7,296.2 C173.1,294.7 172.1,292.0 171.2,289.0 C170.3,286.0 169.8,281.8 170.5,278.0 C171.2,274.2 173.0,268.6 175.7,266.2 Z"/></clipPath>
<g clip-path="url(#bc1)"><rect x="19" y="246" width="261" height="155" fill="#181818"/><rect x="19" y="246" width="261" height="155" filter="url(#noise)"/><path d="M175.7,266.2 C178.4,263.8 182.6,263.6 186.6,263.5 C190.6,263.4 194.2,264.9 199.4,265.3 C204.6,265.8 211.4,266.1 217.5,266.2 C223.6,266.3 230.5,266.6 235.7,266.2 C240.9,265.8 245.5,263.1 248.5,263.5 C251.5,263.9 252.7,266.2 253.9,268.9 C255.1,271.6 255.5,275.6 255.7,279.8 C255.8,284.1 255.7,289.8 254.8,294.4 C253.9,298.9 252.6,303.8 250.3,307.1 C248.0,310.4 245.1,312.9 241.2,314.4 C237.2,315.9 231.4,316.5 226.6,316.2 C221.8,315.9 216.9,314.2 212.1,312.5 C207.2,310.8 200.5,308.3 197.5,306.2 C194.5,304.1 195.7,301.2 193.9,299.8 C192.1,298.4 189.6,298.6 186.6,298.0 C183.6,297.4 178.3,297.7 175.7,296.2 C173.1,294.7 172.1,292.0 171.2,289.0 C170.3,286.0 169.8,281.8 170.5,278.0 C171.2,274.2 173.0,268.6 175.7,266.2 Z" fill="none" stroke="#606060" stroke-width="7" filter="url(#soft2)"/><g filter="url(#soft)"><ellipse cx="220" cy="273" rx="20" ry="7" fill="#707070"/><ellipse cx="206.6" cy="272.5" rx="5" ry="4.8" fill="#d8d8d8"/><ellipse cx="217.5" cy="276.6" rx="5.5" ry="5" fill="#e2e2e2"/><ellipse cx="232.5" cy="274" rx="5" ry="6" fill="#d4d4d4"/><circle cx="224.8" cy="292.5" r="7" fill="#8a8a8a"/><circle cx="224.8" cy="292.5" r="4.2" fill="#0e0e0e"/><ellipse cx="247" cy="286" rx="6" ry="16" fill="none" stroke="#555" stroke-width="1"/></g></g>
<path d="M175.7,266.2 C178.4,263.8 182.6,263.6 186.6,263.5 C190.6,263.4 194.2,264.9 199.4,265.3 C204.6,265.8 211.4,266.1 217.5,266.2 C223.6,266.3 230.5,266.6 235.7,266.2 C240.9,265.8 245.5,263.1 248.5,263.5 C251.5,263.9 252.7,266.2 253.9,268.9 C255.1,271.6 255.5,275.6 255.7,279.8 C255.8,284.1 255.7,289.8 254.8,294.4 C253.9,298.9 252.6,303.8 250.3,307.1 C248.0,310.4 245.1,312.9 241.2,314.4 C237.2,315.9 231.4,316.5 226.6,316.2 C221.8,315.9 216.9,314.2 212.1,312.5 C207.2,310.8 200.5,308.3 197.5,306.2 C194.5,304.1 195.7,301.2 193.9,299.8 C192.1,298.4 189.6,298.6 186.6,298.0 C183.6,297.4 178.3,297.7 175.7,296.2 C173.1,294.7 172.1,292.0 171.2,289.0 C170.3,286.0 169.8,281.8 170.5,278.0 C171.2,274.2 173.0,268.6 175.7,266.2 Z" fill="none" stroke="#d2d2d2" stroke-width="2.2" filter="url(#soft)"/>
<clipPath id="bc2"><path d="M43.0,345.9 C44.7,343.5 45.3,344.4 51.2,344.1 C57.1,343.8 68.8,344.2 78.5,344.1 C88.2,344.0 102.7,343.2 109.4,343.2 C116.1,343.2 116.1,342.7 118.5,344.1 C120.9,345.5 122.9,348.7 123.9,351.4 C125.0,354.1 125.4,357.5 124.8,360.5 C124.2,363.5 122.6,366.5 120.3,369.5 C118.0,372.5 115.2,375.7 111.2,378.6 C107.2,381.5 102.0,385.1 96.6,386.8 C91.1,388.5 84.0,388.8 78.5,388.6 C73.0,388.5 68.2,387.2 63.9,385.9 C59.6,384.5 55.4,382.5 53.0,380.5 C50.6,378.5 50.9,375.8 49.4,374.1 C47.9,372.4 45.3,373.1 43.9,370.5 C42.5,367.9 41.4,362.7 41.2,358.6 C41.1,354.5 41.3,348.3 43.0,345.9 Z"/></clipPath>
<g clip-path="url(#bc2)"><rect x="19" y="246" width="261" height="155" fill="#181818"/><rect x="19" y="246" width="261" height="155" filter="url(#noise)"/><path d="M43.0,345.9 C44.7,343.5 45.3,344.4 51.2,344.1 C57.1,343.8 68.8,344.2 78.5,344.1 C88.2,344.0 102.7,343.2 109.4,343.2 C116.1,343.2 116.1,342.7 118.5,344.1 C120.9,345.5 122.9,348.7 123.9,351.4 C125.0,354.1 125.4,357.5 124.8,360.5 C124.2,363.5 122.6,366.5 120.3,369.5 C118.0,372.5 115.2,375.7 111.2,378.6 C107.2,381.5 102.0,385.1 96.6,386.8 C91.1,388.5 84.0,388.8 78.5,388.6 C73.0,388.5 68.2,387.2 63.9,385.9 C59.6,384.5 55.4,382.5 53.0,380.5 C50.6,378.5 50.9,375.8 49.4,374.1 C47.9,372.4 45.3,373.1 43.9,370.5 C42.5,367.9 41.4,362.7 41.2,358.6 C41.1,354.5 41.3,348.3 43.0,345.9 Z" fill="none" stroke="#606060" stroke-width="7" filter="url(#soft2)"/><g filter="url(#soft)"><ellipse cx="84" cy="350" rx="25" ry="6" fill="#707070"/><ellipse cx="73" cy="351" rx="8.5" ry="4.5" fill="#d6d6d6"/><ellipse cx="96.6" cy="351" rx="8.5" ry="4.5" fill="#d2d2d2"/><circle cx="83.9" cy="360.5" r="6.5" fill="#808080"/><ellipse cx="82" cy="347" rx="4" ry="2.5" fill="#111"/></g></g>
<path d="M43.0,345.9 C44.7,343.5 45.3,344.4 51.2,344.1 C57.1,343.8 68.8,344.2 78.5,344.1 C88.2,344.0 102.7,343.2 109.4,343.2 C116.1,343.2 116.1,342.7 118.5,344.1 C120.9,345.5 122.9,348.7 123.9,351.4 C125.0,354.1 125.4,357.5 124.8,360.5 C124.2,363.5 122.6,366.5 120.3,369.5 C118.0,372.5 115.2,375.7 111.2,378.6 C107.2,381.5 102.0,385.1 96.6,386.8 C91.1,388.5 84.0,388.8 78.5,388.6 C73.0,388.5 68.2,387.2 63.9,385.9 C59.6,384.5 55.4,382.5 53.0,380.5 C50.6,378.5 50.9,375.8 49.4,374.1 C47.9,372.4 45.3,373.1 43.9,370.5 C42.5,367.9 41.4,362.7 41.2,358.6 C41.1,354.5 41.3,348.3 43.0,345.9 Z" fill="none" stroke="#d2d2d2" stroke-width="2.2" filter="url(#soft)"/>
<clipPath id="bc3"><path d="M175.9,339.1 C177.3,336.4 178.0,336.4 183.2,337.3 C188.3,338.2 201.1,342.5 206.8,344.5 C212.6,346.5 214.1,349.3 217.7,349.5 C221.3,349.7 223.1,347.5 228.6,345.5 C234.1,343.5 245.9,338.2 250.5,337.3 C255.1,336.4 254.7,337.6 255.9,340.0 C257.1,342.4 258.3,347.7 257.7,351.8 C257.1,355.9 255.0,360.9 252.3,364.5 C249.6,368.1 244.5,370.7 241.4,373.6 C238.3,376.5 237.7,379.4 234.0,381.8 C230.3,384.2 224.9,387.4 219.5,388.2 C214.1,389.0 206.2,387.8 201.4,386.4 C196.6,385.0 194.2,381.8 190.5,380.0 C186.8,378.2 181.6,377.8 179.5,375.5 C177.4,373.2 178.4,370.0 177.7,366.4 C176.9,362.8 175.3,358.2 175.0,353.6 C174.7,349.1 174.5,341.8 175.9,339.1 Z"/></clipPath>
<g clip-path="url(#bc3)"><rect x="19" y="246" width="261" height="155" fill="#1e1e1e"/><rect x="19" y="246" width="261" height="155" filter="url(#noise)"/><path d="M175.9,339.1 C177.3,336.4 178.0,336.4 183.2,337.3 C188.3,338.2 201.1,342.5 206.8,344.5 C212.6,346.5 214.1,349.3 217.7,349.5 C221.3,349.7 223.1,347.5 228.6,345.5 C234.1,343.5 245.9,338.2 250.5,337.3 C255.1,336.4 254.7,337.6 255.9,340.0 C257.1,342.4 258.3,347.7 257.7,351.8 C257.1,355.9 255.0,360.9 252.3,364.5 C249.6,368.1 244.5,370.7 241.4,373.6 C238.3,376.5 237.7,379.4 234.0,381.8 C230.3,384.2 224.9,387.4 219.5,388.2 C214.1,389.0 206.2,387.8 201.4,386.4 C196.6,385.0 194.2,381.8 190.5,380.0 C186.8,378.2 181.6,377.8 179.5,375.5 C177.4,373.2 178.4,370.0 177.7,366.4 C176.9,362.8 175.3,358.2 175.0,353.6 C174.7,349.1 174.5,341.8 175.9,339.1 Z" fill="none" stroke="#606060" stroke-width="7" filter="url(#soft2)"/><g filter="url(#soft)"><ellipse cx="210" cy="346" rx="10" ry="4" fill="#6a6a6a"/><ellipse cx="230" cy="346" rx="9" ry="4" fill="#6a6a6a"/><circle cx="215" cy="365.5" r="6.5" fill="#8a8a8a"/><circle cx="215" cy="365.5" r="4.2" fill="#121212"/><ellipse cx="208.6" cy="378" rx="1.2" ry="3" fill="#aaa"/><ellipse cx="219.5" cy="378" rx="1.2" ry="3" fill="#aaa"/></g></g>
<path d="M175.9,339.1 C177.3,336.4 178.0,336.4 183.2,337.3 C188.3,338.2 201.1,342.5 206.8,344.5 C212.6,346.5 214.1,349.3 217.7,349.5 C221.3,349.7 223.1,347.5 228.6,345.5 C234.1,343.5 245.9,338.2 250.5,337.3 C255.1,336.4 254.7,337.6 255.9,340.0 C257.1,342.4 258.3,347.7 257.7,351.8 C257.1,355.9 255.0,360.9 252.3,364.5 C249.6,368.1 244.5,370.7 241.4,373.6 C238.3,376.5 237.7,379.4 234.0,381.8 C230.3,384.2 224.9,387.4 219.5,388.2 C214.1,389.0 206.2,387.8 201.4,386.4 C196.6,385.0 194.2,381.8 190.5,380.0 C186.8,378.2 181.6,377.8 179.5,375.5 C177.4,373.2 178.4,370.0 177.7,366.4 C176.9,362.8 175.3,358.2 175.0,353.6 C174.7,349.1 174.5,341.8 175.9,339.1 Z" fill="none" stroke="#d2d2d2" stroke-width="2.2" filter="url(#soft)"/>
<g filter="url(#soft)"><ellipse cx="46.1" cy="279.1" rx="6.5" ry="7.5" fill="#e44e4e" stroke="#bbb" stroke-width="0.8"/><ellipse cx="184.3" cy="281.6" rx="13.2" ry="15.9" fill="#e25858" stroke="#ccc" stroke-width="1"/><circle cx="48.5" cy="356.8" r="6.8" fill="#e44e4e"/><circle cx="177.4" cy="348.2" r="3.8" fill="#e44040"/></g>
<text x="53.30" y="260.00" font-size="8.84" text-anchor="start" fill="#f2f2f2" font-weight="normal" font-style="normal" stroke="#f2f2f2" stroke-width="0.2" >DMSO, Day 2</text>
<text x="184.50" y="260.00" font-size="8.85" text-anchor="start" fill="#f2f2f2" font-weight="normal" font-style="normal" stroke="#f2f2f2" stroke-width="0.2" >DMSO, Day 27</text>
<text x="41.90" y="333.80" font-size="8.76" text-anchor="start" fill="#f2f2f2" font-weight="normal" font-style="normal" stroke="#f2f2f2" stroke-width="0.2" >BMS-986158, Day 2</text>
<text x="177.70" y="333.80" font-size="8.76" text-anchor="start" fill="#f2f2f2" font-weight="normal" font-style="normal" stroke="#f2f2f2" stroke-width="0.2" >BMS-986158, Day 27</text>
<text x="291.60" y="237.90" font-size="17.2" text-anchor="start" fill="#000" font-weight="bold" font-style="normal" >d</text>
<text x="334.70" y="228.70" font-size="6.37" text-anchor="start" fill="#222" font-weight="normal" font-style="normal" stroke="#222" stroke-width="0.2" >Geneset: GRYDER_PAX3FOXO1_ENHANCERS_KO_DOWN</text>
<line x1="331.20" y1="232.50" x2="333.30" y2="232.50" stroke="#555" stroke-width="0.9" />
<text x="330.60" y="234.50" font-size="5.5" text-anchor="end" fill="#555" font-weight="normal" font-style="normal" stroke="#555" stroke-width="0.2" >0.2</text>
<line x1="331.20" y1="251.00" x2="333.30" y2="251.00" stroke="#555" stroke-width="0.9" />
<text x="330.60" y="253.00" font-size="5.5" text-anchor="end" fill="#555" font-weight="normal" font-style="normal" stroke="#555" stroke-width="0.2" >0.0</text>
<line x1="331.20" y1="269.50" x2="333.30" y2="269.50" stroke="#555" stroke-width="0.9" />
<text x="330.60" y="271.50" font-size="5.5" text-anchor="end" fill="#555" font-weight="normal" font-style="normal" stroke="#555" stroke-width="0.2" >-0.2</text>
<line x1="331.20" y1="288.00" x2="333.30" y2="288.00" stroke="#555" stroke-width="0.9" />
<text x="330.60" y="290.00" font-size="5.5" text-anchor="end" fill="#555" font-weight="normal" font-style="normal" stroke="#555" stroke-width="0.2" >-0.4</text>
<line x1="331.20" y1="306.50" x2="333.30" y2="306.50" stroke="#555" stroke-width="0.9" />
<text x="330.60" y="308.50" font-size="5.5" text-anchor="end" fill="#555" font-weight="normal" font-style="normal" stroke="#555" stroke-width="0.2" >-0.6</text>
<line x1="339.50" y1="310.20" x2="339.50" y2="312.00" stroke="#555" stroke-width="0.9" />
<text x="339.50" y="316.90" font-size="5.2" text-anchor="middle" fill="#555" font-weight="normal" font-style="normal" stroke="#555" stroke-width="0.2" >0</text>
<line x1="388.90" y1="310.20" x2="388.90" y2="312.00" stroke="#555" stroke-width="0.9" />
<text x="388.90" y="316.90" font-size="5.2" text-anchor="middle" fill="#555" font-weight="normal" font-style="normal" stroke="#555" stroke-width="0.2" >10000</text>
<line x1="438.30" y1="310.20" x2="438.30" y2="312.00" stroke="#555" stroke-width="0.9" />
<text x="438.30" y="316.90" font-size="5.2" text-anchor="middle" fill="#555" font-weight="normal" font-style="normal" stroke="#555" stroke-width="0.2" >20000</text>
<text x="365.30" y="324.70" font-size="5.23" text-anchor="start" fill="#222" font-weight="normal" font-style="normal" stroke="#222" stroke-width="0.2" >Genes Ranked by log2 fold change</text>
<text x="0" y="0" font-size="5.9" text-anchor="middle" fill="#222" transform="translate(316.2,262) rotate(-90)">Enrichment Score</text>
<line x1="339.90" y1="251.10" x2="486.50" y2="251.10" stroke="#333" stroke-width="0.9" stroke-dasharray="2.6,2.2"/>
<polyline points="339.90,250.90 343.00,249.80 346.00,249.30 350.00,249.50 354.70,250.90 413.00,288.70 430.00,299.70 440.00,305.00 445.00,306.60 449.00,307.10 452.00,306.30 455.90,304.60 462.90,299.70 469.80,290.10 475.00,274.60 477.50,263.00 479.30,251.20" fill="none" stroke="#f85a36" stroke-width="2.0" stroke-linejoin="round" />
<polyline points="339.90,250.90 345.00,246.00 351.70,240.80 357.00,238.00 362.60,236.30 369.50,236.50 376.00,239.30 392.00,250.70 407.00,259.80 430.00,273.70 445.00,282.00 455.00,287.50 461.00,289.60 467.00,288.60 471.50,286.50 474.50,281.00 476.70,274.60 478.30,263.00 479.30,251.20" fill="none" stroke="#1c1cf2" stroke-width="2.0" stroke-linejoin="round" />
<polyline points="339.90,250.90 345.00,245.00 349.00,241.50 352.70,239.90 356.00,240.00 360.60,240.80 370.00,245.00 379.30,250.70 407.00,269.20 430.00,284.60 445.00,292.50 452.00,296.00 457.70,297.70 464.60,295.50 468.00,292.30 470.60,288.40 473.50,282.00 476.70,272.90 478.30,262.00 479.30,251.20" fill="none" stroke="#168a82" stroke-width="2.0" stroke-linejoin="round" />
<rect x="333.30" y="232.50" width="153.20" height="77.70" fill="none" stroke="#555" stroke-width="0.9"/>
<text x="338.20" y="304.00" font-size="6.12" text-anchor="start" fill="#222" font-weight="normal" font-style="normal" stroke="#222" stroke-width="0.2" >BMS-986158 v. Vehicle</text>
<text x="489.80" y="260.50" font-size="6.3" text-anchor="start" fill="#222" font-weight="normal" font-style="normal" stroke="#222" stroke-width="0.2" >p-Value</text>
<text x="495.20" y="267.70" font-size="6.1" text-anchor="start" fill="#222" font-weight="normal" font-style="normal" stroke="#222" stroke-width="0.2" >0</text>
<text x="494.30" y="274.90" font-size="6.1" text-anchor="start" fill="#222" font-weight="normal" font-style="normal" stroke="#222" stroke-width="0.2" >0.003</text>
<text x="495.20" y="282.00" font-size="6.1" text-anchor="start" fill="#222" font-weight="normal" font-style="normal" stroke="#222" stroke-width="0.2" >0</text>
<line x1="511.40" y1="264.60" x2="517.70" y2="264.60" stroke="#f85a36" stroke-width="2.0" />
<text x="521.40" y="267.00" font-size="7.1" text-anchor="start" fill="#222" font-weight="normal" font-style="normal" stroke="#222" stroke-width="0.2" >tumor 1</text>
<line x1="511.40" y1="272.00" x2="517.70" y2="272.00" stroke="#1c1cf2" stroke-width="2.0" />
<text x="521.40" y="274.40" font-size="7.1" text-anchor="start" fill="#222" font-weight="normal" font-style="normal" stroke="#222" stroke-width="0.2" >tumor 2</text>
<line x1="511.40" y1="279.50" x2="517.70" y2="279.50" stroke="#168a82" stroke-width="2.0" />
<text x="521.40" y="281.90" font-size="7.1" text-anchor="start" fill="#222" font-weight="normal" font-style="normal" stroke="#222" stroke-width="0.2" >tumor 3</text>
<text x="291.60" y="336.60" font-size="16.8" text-anchor="start" fill="#000" font-weight="bold" font-style="normal" >e</text>
<text x="0" y="0" font-size="6.2" text-anchor="middle" fill="#222" transform="translate(311.0,363.2) rotate(-90)">Log2(Fold Change)</text>
<text x="0" y="0" font-size="6.0" text-anchor="middle" fill="#222" transform="translate(320.0,363.2) rotate(-90)">BMS-986158 v. Vehicle</text>
<line x1="335.80" y1="341.50" x2="340.30" y2="341.50" stroke="#555" stroke-width="0.9" />
<text x="335.00" y="343.60" font-size="6.0" text-anchor="end" fill="#333" font-weight="normal" font-style="normal" stroke="#333" stroke-width="0.2" >0.0</text>
<line x1="335.80" y1="363.65" x2="340.30" y2="363.65" stroke="#555" stroke-width="0.9" />
<text x="335.00" y="365.75" font-size="6.0" text-anchor="end" fill="#333" font-weight="normal" font-style="normal" stroke="#333" stroke-width="0.2" >-0.5</text>
<line x1="335.80" y1="385.80" x2="340.30" y2="385.80" stroke="#555" stroke-width="0.9" />
<text x="335.00" y="387.90" font-size="6.0" text-anchor="end" fill="#333" font-weight="normal" font-style="normal" stroke="#333" stroke-width="0.2" >-1.0</text>
<rect x="346.30" y="341.50" width="8.60" height="41.20" fill="#fd5a3a" />
<rect x="358.30" y="341.50" width="8.60" height="15.95" fill="#1414ee" />
<line x1="362.60" y1="399.70" x2="362.60" y2="403.20" stroke="#555" stroke-width="0.9" />
<text x="362.60" y="410.60" font-size="6.5" text-anchor="middle" fill="#222" font-weight="normal" font-style="italic" stroke="#222" stroke-width="0.2" >PIPOX</text>
<rect x="408.30" y="341.50" width="8.60" height="11.96" fill="#1414ee" />
<line x1="412.60" y1="399.70" x2="412.60" y2="403.20" stroke="#555" stroke-width="0.9" />
<text x="412.60" y="410.60" font-size="6.5" text-anchor="middle" fill="#222" font-weight="normal" font-style="italic" stroke="#222" stroke-width="0.2" >FGFR4</text>
<rect x="446.00" y="341.50" width="8.60" height="52.72" fill="#fd5a3a" />
<rect x="458.00" y="341.50" width="8.60" height="7.53" fill="#1414ee" />
<rect x="470.00" y="341.50" width="8.60" height="53.16" fill="#14857d" />
<line x1="462.30" y1="399.70" x2="462.30" y2="403.20" stroke="#555" stroke-width="0.9" />
<text x="462.30" y="410.60" font-size="6.5" text-anchor="middle" fill="#222" font-weight="normal" font-style="italic" stroke="#222" stroke-width="0.2" >ASS1</text>
<line x1="340.30" y1="333.30" x2="340.30" y2="399.70" stroke="#8a8a8a" stroke-width="1.1" />
<line x1="340.30" y1="399.70" x2="485.50" y2="399.70" stroke="#8a8a8a" stroke-width="1.1" />
<line x1="340.30" y1="341.50" x2="485.10" y2="341.50" stroke="#222" stroke-width="0.9" />
<circle cx="350.60" cy="382.70" r="1.9" fill="#fff" stroke="#fd5a3a" stroke-width="1.1"/>
<circle cx="362.60" cy="357.45" r="1.9" fill="#fff" stroke="#1414ee" stroke-width="1.1"/>
<circle cx="374.60" cy="340.61" r="1.9" fill="#fff" stroke="#14857d" stroke-width="1.1"/>
<circle cx="400.60" cy="340.61" r="1.9" fill="#fff" stroke="#fd5a3a" stroke-width="1.1"/>
<circle cx="412.60" cy="353.46" r="1.9" fill="#fff" stroke="#1414ee" stroke-width="1.1"/>
<circle cx="424.60" cy="341.06" r="1.9" fill="#fff" stroke="#14857d" stroke-width="1.1"/>
<circle cx="450.30" cy="394.22" r="1.9" fill="#fff" stroke="#fd5a3a" stroke-width="1.1"/>
<circle cx="462.30" cy="349.03" r="1.9" fill="#fff" stroke="#1414ee" stroke-width="1.1"/>
<circle cx="474.30" cy="394.66" r="1.9" fill="#fff" stroke="#14857d" stroke-width="1.1"/>
<circle cx="496.5" cy="350.7" r="2.2" fill="#fff" stroke="#fd5a3a" stroke-width="1.4"/>
<text x="501.70" y="353.20" font-size="7.0" text-anchor="start" fill="#222" font-weight="normal" font-style="normal" stroke="#222" stroke-width="0.2" >tumor 1</text>
<circle cx="496.5" cy="362.4" r="2.2" fill="#fff" stroke="#1414ee" stroke-width="1.4"/>
<text x="501.70" y="364.90" font-size="7.0" text-anchor="start" fill="#222" font-weight="normal" font-style="normal" stroke="#222" stroke-width="0.2" >tumor 2</text>
<circle cx="496.5" cy="374.4" r="2.2" fill="#fff" stroke="#14857d" stroke-width="1.4"/>
<text x="501.70" y="376.90" font-size="7.0" text-anchor="start" fill="#222" font-weight="normal" font-style="normal" stroke="#222" stroke-width="0.2" >tumor 3</text>
</svg></body></html>
